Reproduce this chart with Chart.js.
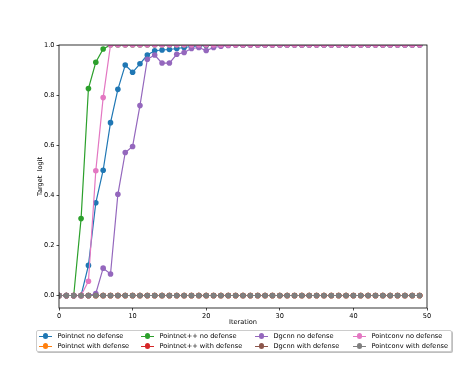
<!DOCTYPE html>
<html>
<head>
<meta charset="utf-8">
<script src="https://cdn.jsdelivr.net/npm/chart.js@4.4.0/dist/chart.umd.min.js"></script>
<style>
  body { margin: 0; background: #fff; }
  #wrap { position: relative; width: 474px; height: 379px; }
  #legend {
    position: absolute; left: 36px; top: 330px; width: 414px; height: 20px;
    border: 1px solid #ccc; border-radius: 2px; background: #fff;
    box-shadow: 1px 1px 0 rgba(0,0,0,0.25);
    font-family: "DejaVu Sans"; font-size: 6.6px; color: #000;
  }
  .item { position: absolute; height: 10px; display: flex; align-items: center; white-space: nowrap; }
  .handle { position: relative; width: 13px; height: 10px; margin-right: 5.5px; }
  .handle .ln { position: absolute; left: 0; right: 0; top: 4.5px; height: 1.2px; }
  .handle .dot { position: absolute; left: 3.7px; top: 2.2px; width: 5.6px; height: 5.6px; border-radius: 50%; }
</style>
</head>
<body>
<div id="wrap">
  <canvas id="chart" width="474" height="379"></canvas>
  <div id="legend"></div>
</div>
<script>
// valori
const iterations = [0,1,2,3,4,5,6,7,8,9,10,11,12,13,14,15,16,17,18,19,20,21,22,23,24,
                    25,26,27,28,29,30,31,32,33,34,35,36,37,38,39,40,41,42,43,44,45,46,47,48,49];

const pointnetNo = [0,0,0,0,0.12,0.37,0.5,0.69,0.823,0.92,0.891,0.925,0.96,0.977,0.98,0.982,0.986,0.99,0.994,0.996,
                    0.998,0.999,1,1,1,1,1,1,1,1,1,1,1,1,1,1,1,1,1,1,1,1,1,1,1,1,1,1,1,1];
const pointnetWith = [0,0,0,0,0,0,0,0,0,0,0,0,0,0,0,0,0,0,0,0,0,0,0,0,0,
                      0,0,0,0,0,0,0,0,0,0,0,0,0,0,0,0,0,0,0,0,0,0,0,0,0];
const pointnetppNo = [0,0,0,0.307,0.826,0.931,0.984,1,1,1,1,1,1,1,1,1,1,1,1,1,1,1,1,1,1,
                      1,1,1,1,1,1,1,1,1,1,1,1,1,1,1,1,1,1,1,1,1,1,1,1,1];
const pointnetppWith = [0,0,0,0,0,0,0,0,0,0,0,0,0,0,0,0,0,0,0,0,0,0,0,0,0,
                        0,0,0,0,0,0,0,0,0,0,0,0,0,0,0,0,0,0,0,0,0,0,0,0,0];
const dgcnnNo = [0,0,0,0,0,0.008,0.109,0.086,0.404,0.571,0.595,0.758,0.943,0.96,0.928,0.928,0.963,0.97,0.986,0.99,
                 0.978,0.99,0.995,0.998,1,1,1,1,1,1,1,1,1,1,1,1,1,1,1,1,1,1,1,1,1,1,1,1,1,1];
const dgcnnWith = [0,0,0,0,0,0,0,0,0,0,0,0,0,0,0,0,0,0,0,0,0,0,0,0,0,
                   0,0,0,0,0,0,0,0,0,0,0,0,0,0,0,0,0,0,0,0,0,0,0,0,0];
const pointconvNo = [0,0,0,0,0.057,0.498,0.79,1,1,1,1,1,1,1,1,1,1,1,1,1,1,1,1,1,1,
                     1,1,1,1,1,1,1,1,1,1,1,1,1,1,1,1,1,1,1,1,1,1,1,1,1];
const pointconvWith = [0,0,0,0,0,0,0,0,0,0,0,0,0,0,0,0,0,0,0,0,0,0,0,0,0,
                       0,0,0,0,0,0,0,0,0,0,0,0,0,0,0,0,0,0,0,0,0,0,0,0,0];

const seriesLabels = ["Pointnet no defense", "Pointnet with defense", "Pointnet++ no defense", "Pointnet++ with defense",
                      "Dgcnn no defense", "Dgcnn with defense", "Pointconv no defense", "Pointconv with defense"];
const seriesValues = [pointnetNo, pointnetWith, pointnetppNo, pointnetppWith, dgcnnNo, dgcnnWith, pointconvNo, pointconvWith];
const seriesColors = ["#1f77b4", "#ff7f0e", "#2ca02c", "#d62728", "#9467bd", "#8c564b", "#e377c2", "#7f7f7f"];

const xTicks = [0, 10, 20, 30, 40, 50];
const yTicks = [0, 0.2, 0.4, 0.6, 0.8, 1.0];

const font = { family: "DejaVu Sans", size: 6.6 };

// cornice attorno all'area del grafico
const frame = {
  id: 'frame',
  afterDatasetsDraw(chart) {
    const { ctx, chartArea: a } = chart;
    ctx.save();
    ctx.strokeStyle = '#000';
    ctx.lineWidth = 0.8;
    ctx.strokeRect(a.left, a.top, a.right - a.left, a.bottom - a.top);
    ctx.restore();
  }
};

// l'ultima serie va disegnata sopra, come in matplotlib
const datasets = seriesLabels.map((label, i) => ({
  label: label,
  data: iterations.map((x, j) => ({ x: x, y: seriesValues[i][j] })),
  order: seriesLabels.length - i,
  borderColor: seriesColors[i],
  backgroundColor: seriesColors[i],
  borderWidth: 1.2,
  pointRadius: 2.8,
  pointBorderWidth: 0,
  pointBackgroundColor: seriesColors[i],
  tension: 0,
  clip: 0
}));

new Chart(document.getElementById('chart').getContext('2d'), {
  type: 'line',
  data: { datasets: datasets },
  options: {
    responsive: false,
    animation: false,
    layout: { padding: { left: 0, right: 47, top: 45, bottom: 0 }, autoPadding: false },
    plugins: { legend: { display: false }, tooltip: { enabled: false } },
    scales: {
      x: {
        type: 'linear', min: 0, max: 50,
        afterBuildTicks: s => { s.ticks = xTicks.map(v => ({ value: v })); },
        afterFit: s => { s.height = 71; },
        ticks: { font: font, color: '#000', padding: 2, maxRotation: 0, callback: v => String(v) },
        grid: { drawOnChartArea: false, tickLength: 2.5, color: '#000', lineWidth: 0.7 },
        border: { display: false },
        title: { display: true, text: 'Iteration', font: font, color: '#000', padding: { top: 0, bottom: 53 } }
      },
      y: {
        min: -0.05, max: 1.0,
        afterBuildTicks: s => { s.ticks = yTicks.map(v => ({ value: v })); },
        afterFit: s => { s.width = 59; },
        ticks: { font: font, color: '#000', padding: 2, callback: v => v.toFixed(1) },
        grid: { drawOnChartArea: false, tickLength: 2.5, color: '#000', lineWidth: 0.7 },
        border: { display: false },
        title: { display: true, text: 'Target  logit', font: font, color: '#000', padding: { top: 36, bottom: 0 } }
      }
    }
  },
  plugins: [frame]
});

// legenda in 4 colonne (ordine per colonna come nell'originale)
const colLeft = [2, 104, 218, 316];
const legend = document.getElementById('legend');
seriesLabels.forEach((label, i) => {
  const item = document.createElement('div');
  item.className = 'item';
  item.style.left = colLeft[Math.floor(i / 2)] + 'px';
  item.style.top = (i % 2) * 10 + 'px';
  item.innerHTML = '<span class="handle"><span class="ln" style="background:' + seriesColors[i] +
    '"></span><span class="dot" style="background:' + seriesColors[i] + '"></span></span>' + label;
  legend.appendChild(item);
});
</script>
</body>
</html>
